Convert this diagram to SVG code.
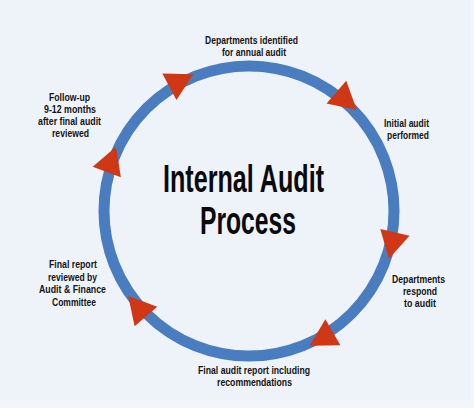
<svg xmlns="http://www.w3.org/2000/svg" width="474" height="408" viewBox="0 0 474 408">
<defs>
<style>
.lbl{font-family:"Liberation Sans",Arial,sans-serif;font-weight:bold;font-size:11px;fill:#141414;text-anchor:middle}
.ttl{font-family:"Liberation Sans",Arial,sans-serif;font-weight:bold;font-size:38px;fill:#0a0a0a;text-anchor:middle}
.ring{fill:none;stroke:#4a7dc0;stroke-width:11}
.arr{fill:#d03714}
</style>
<polygon id="tri" class="arr" points="-13,-12 17,-12 2,15"/>
</defs>
<rect width="474" height="408" fill="#eef3fa"/>
<rect x="0" y="400" width="474" height="8" fill="#f2f5fa"/>
<rect x="471" y="0" width="3" height="408" fill="#f2f5fa"/>
<g id="connectors">
<circle class="ring" cx="249" cy="211" r="145"/>
<use href="#tri" transform="rotate(242 249 211) translate(394 211)"/>
<use href="#tri" transform="rotate(311 249 211) translate(394 211)"/>
<use href="#tri" transform="rotate(13 249 211) translate(394 211)"/>
<use href="#tri" transform="rotate(60 249 211) translate(394 211)"/>
<use href="#tri" transform="rotate(139 249 211) translate(394 211)"/>
<use href="#tri" transform="rotate(200 249 211) translate(394 211)"/>
</g>
<g id="title">
<text class="ttl" x="243.5" y="192" textLength="161" lengthAdjust="spacingAndGlyphs">Internal Audit</text>
<text class="ttl" x="248" y="234" textLength="96" lengthAdjust="spacingAndGlyphs">Process</text>
</g>
<g id="node-identified">
<text class="lbl" x="251.5" y="44" textLength="93" lengthAdjust="spacingAndGlyphs">Departments identified</text>
<text class="lbl" x="254" y="56" textLength="64" lengthAdjust="spacingAndGlyphs">for annual audit</text>
</g>
<g id="node-initial">
<text class="lbl" x="406.5" y="127" textLength="45" lengthAdjust="spacingAndGlyphs">Initial audit</text>
<text class="lbl" x="408" y="139" textLength="42" lengthAdjust="spacingAndGlyphs">performed</text>
</g>
<g id="node-respond">
<text class="lbl" x="418.5" y="283" textLength="53" lengthAdjust="spacingAndGlyphs">Departments</text>
<text class="lbl" x="420" y="295" textLength="34" lengthAdjust="spacingAndGlyphs">respond</text>
<text class="lbl" x="420" y="307" textLength="32" lengthAdjust="spacingAndGlyphs">to audit</text>
</g>
<g id="node-report">
<text class="lbl" x="254" y="374" textLength="112" lengthAdjust="spacingAndGlyphs">Final audit report including</text>
<text class="lbl" x="254.5" y="386" textLength="75" lengthAdjust="spacingAndGlyphs">recommendations</text>
</g>
<g id="node-committee">
<text class="lbl" x="73" y="268" textLength="48" lengthAdjust="spacingAndGlyphs">Final report</text>
<text class="lbl" x="72.5" y="281" textLength="49" lengthAdjust="spacingAndGlyphs">reviewed by</text>
<text class="lbl" x="72.5" y="293" textLength="67" lengthAdjust="spacingAndGlyphs">Audit &amp; Finance</text>
<text class="lbl" x="74" y="306" textLength="44" lengthAdjust="spacingAndGlyphs">Committee</text>
</g>
<g id="node-followup">
<text class="lbl" x="69.5" y="101" textLength="41" lengthAdjust="spacingAndGlyphs">Follow-up</text>
<text class="lbl" x="70" y="113" textLength="52" lengthAdjust="spacingAndGlyphs">9-12 months</text>
<text class="lbl" x="69.5" y="125" textLength="63" lengthAdjust="spacingAndGlyphs">after final audit</text>
<text class="lbl" x="70.5" y="137" textLength="37" lengthAdjust="spacingAndGlyphs">reviewed</text>
</g>
</svg>
